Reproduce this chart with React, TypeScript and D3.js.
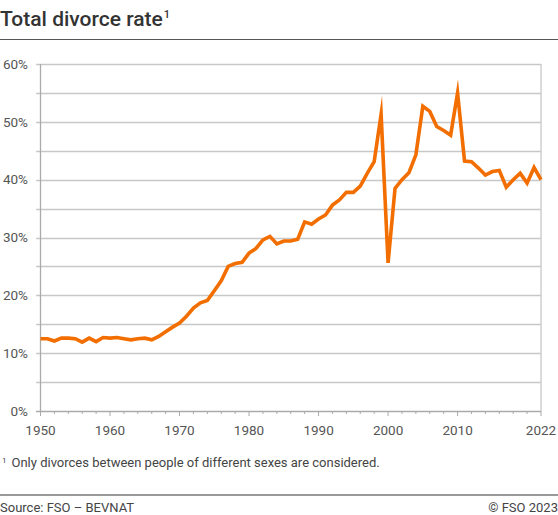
import { useMemo } from "react";
import { scaleLinear, line, range } from "d3";

// total divorce rate in %, 1950–2022
const years = range(1950, 2023);
const rates = [
  12.5, 12.5, 12.1, 12.6, 12.6, 12.5, 11.9, 12.6, 12.0, 12.7,
  12.6, 12.7, 12.5, 12.3, 12.5, 12.6, 12.3, 12.9, 13.7, 14.5,
  15.2, 16.4, 17.8, 18.7, 19.1, 20.8, 22.5, 25.0, 25.5, 25.7,
  27.3, 28.1, 29.6, 30.2, 28.9, 29.4, 29.4, 29.7, 32.7, 32.3,
  33.2, 33.9, 35.6, 36.5, 37.8, 37.8, 38.9, 41.1, 43.1, 51.3,
  25.6, 38.5, 40.0, 41.2, 44.3, 52.7, 51.8, 49.2, 48.5, 47.7,
  55.0, 43.2, 43.1, 42.0, 40.8, 41.4, 41.6, 38.7, 40.0, 41.1,
  39.4, 42.1, 40.0,
];
const yTicks = [0, 5, 10, 15, 20, 25, 30, 35, 40, 45, 50, 55, 60];
const yLabels = [0, 10, 20, 30, 40, 50, 60];
const xLabels = [1950, 1960, 1970, 1980, 1990, 2000, 2010, 2022];
const xMinor = range(1950, 2023, 2);

const W = 558;
const H = 515;

export default function App() {
  const x = scaleLinear().domain([1950, 2022]).range([40.5, 541]);
  const y = scaleLinear().domain([0, 60]).range([411, 64]);

  const path = useMemo(() => {
    const fn = line<number>()
      .x((_, i) => x(years[i]))
      .y((d) => y(d));
    return fn(rates) ?? "";
  }, []);

  const font = "Roboto, 'Noto Sans', sans-serif";

  return (
    <svg
      width={W}
      height={H}
      style={{ position: "absolute", left: 0, top: 0, fontFamily: font }}
    >
      <rect width={W} height={H} fill="#fff" />
      <text x={0} y={26} fontSize={21} fontWeight={500} fill="#333">
        Total divorce rate
        <tspan fontSize={11} dy={-8} dx={1}>1</tspan>
      </text>
      <line x1={0} x2={W} y1={39.5} y2={39.5} stroke="#555" strokeWidth={1.2} />

      {/* grid */}
      {yTicks.map((t) => (
        <line
          key={t}
          x1={36}
          x2={541}
          y1={Math.round(y(t)) + 0.5}
          y2={Math.round(y(t)) + 0.5}
          stroke={t === 0 ? "#aaa" : "#c8c8c8"}
          strokeWidth={1.3}
        />
      ))}
      <line x1={40.5} x2={40.5} y1={64} y2={411} stroke="#aaa" strokeWidth={1.3} />
      <line x1={541} x2={541} y1={64} y2={411} stroke="#c8c8c8" strokeWidth={1.3} />

      {yLabels.map((t) => (
        <text
          key={t}
          x={28}
          y={y(t)}
          dy="0.35em"
          textAnchor="end"
          fontSize={13.5}
          fill="#555"
        >
          {t}%
        </text>
      ))}

      {xMinor.map((yr) => (
        <line
          key={yr}
          x1={x(yr)}
          x2={x(yr)}
          y1={411}
          y2={xLabels.includes(yr) ? 416 : 414}
          stroke="#aaa"
          strokeWidth={1}
        />
      ))}
      {xLabels.map((yr) => (
        <text
          key={yr}
          x={x(yr)}
          y={435}
          textAnchor="middle"
          fontSize={13.5}
          fill="#555"
        >
          {yr}
        </text>
      ))}

      <path
        d={path}
        fill="none"
        stroke="#f36e00"
        strokeWidth={3.6}
        strokeLinejoin="miter"
        strokeMiterlimit={12}
      />

      <text x={2} y={467} fontSize={13} fill="#444">
        <tspan fontSize={8} dy={-4}>1</tspan>
        <tspan dx={5} dy={4}>Only divorces between people of different sexes are considered.</tspan>
      </text>

      <line x1={0} x2={W} y1={495} y2={495} stroke="#777" strokeWidth={1.5} />
      <text x={0} y={512} fontSize={13} fill="#444">
        Source: FSO – BEVNAT
      </text>
      <text x={W} y={512} fontSize={13} fill="#444" textAnchor="end">
        © FSO 2023
      </text>
    </svg>
  );
}
